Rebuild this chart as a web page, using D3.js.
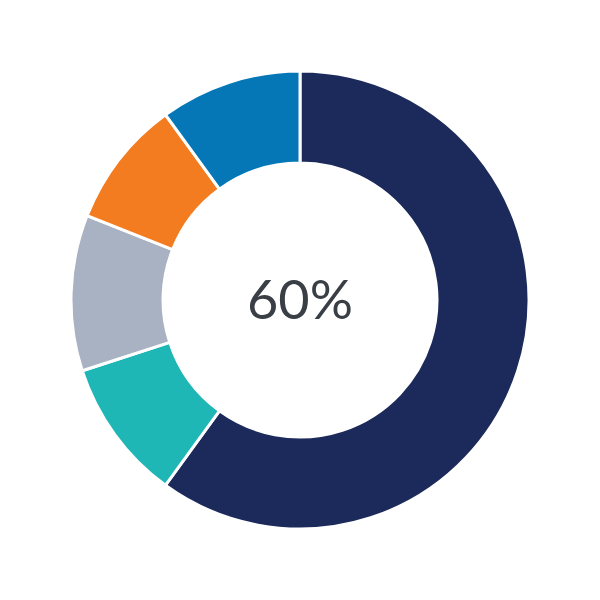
<!DOCTYPE html>
<html><head><meta charset="utf-8">
<script src="https://cdn.jsdelivr.net/npm/d3@7"></script>
<style>html,body{margin:0;padding:0;background:#fff;}</style>
</head><body>
<svg id="chart" width="600" height="600"></svg>
<script>
const categories = ["A", "B", "C", "D", "E"];
const values = [60, 10, 11, 9, 10];
const colors = ["#1b2a5a", "#1fb6b6", "#a8b2c3", "#f47c20", "#0577b7"];
const centerLabel = "60%";

const svg = d3.select("#chart");
const g = svg.append("g").attr("transform", "translate(300,300)");
const pie = d3.pie().sort(null).value(d => d.v);
const arc = d3.arc().innerRadius(137).outerRadius(229);
const data = categories.map((c, i) => ({c, v: values[i], col: colors[i]}));
g.selectAll("path").data(pie(data)).join("path")
  .attr("d", arc)
  .attr("fill", d => d.data.col)
  .attr("stroke", "#fff")
  .attr("stroke-width", 3);
g.append("text").text(centerLabel)
  .attr("text-anchor", "middle")
  .attr("dy", "0.36em")
  .attr("font-family", "Lato, sans-serif")
  .attr("font-size", 54)
  .attr("fill", "#3a3f46");
</script>
</body></html>
